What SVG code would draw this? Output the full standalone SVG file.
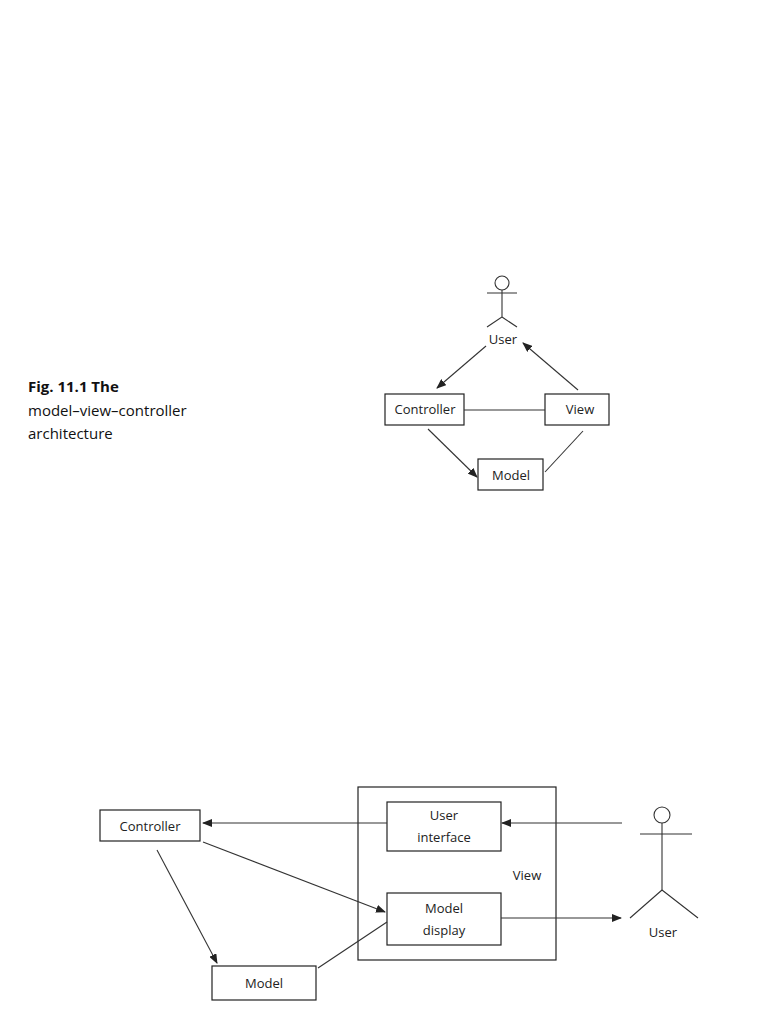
<svg xmlns="http://www.w3.org/2000/svg" width="768" height="1024" viewBox="0 0 768 1024">
<defs>
<style>
.b{fill:#fff;stroke:#222;stroke-width:1.2}
.l{stroke:#333;stroke-width:1.1;fill:none}
.t{font-family:"Open Sans","Liberation Sans",sans-serif;font-size:13px;fill:#222;text-anchor:middle}
.c{font-family:"Open Sans","Liberation Sans",sans-serif;font-size:15px;fill:#111}
</style>
<marker id="a" markerWidth="10" markerHeight="8" refX="9" refY="4" orient="auto" markerUnits="userSpaceOnUse"><path d="M0,0 L10,4 L0,8 Z" fill="#222"/></marker>
</defs>
<rect width="768" height="1024" fill="#fff"/>
<g id="caption1">
<text class="c" x="28" y="392" font-weight="bold">Fig. 11.1 The</text>
<text class="c" x="28" y="416">model–view–controller</text>
<text class="c" x="28" y="439">architecture</text>
</g>
<g id="user1">
<circle class="l" cx="502" cy="283" r="7"/>
<path class="l" d="M487,293H517M502,290V317L487,327M502,317L517,327"/>
<text class="t" x="503" y="344">User</text>
</g>
<g id="controller1"><rect class="b" x="385" y="394" width="79" height="31"/><text class="t" x="425" y="414">Controller</text></g>
<g id="view1"><rect class="b" x="545" y="394" width="64" height="31"/><text class="t" x="580" y="414">View</text></g>
<g id="model1"><rect class="b" x="478" y="459" width="65" height="31"/><text class="t" x="511" y="480">Model</text></g>
<g id="connectors1">
<line class="l" x1="486" y1="346" x2="437" y2="388" marker-end="url(#a)"/>
<line class="l" x1="578" y1="390" x2="523" y2="343" marker-end="url(#a)"/>
<line class="l" x1="464" y1="410" x2="545" y2="410"/>
<line class="l" x1="428" y1="429" x2="477" y2="477" marker-end="url(#a)"/>
<line class="l" x1="583" y1="431" x2="545" y2="472"/>
</g>
<g id="viewbox2"><rect class="b" x="358" y="787" width="198" height="173"/><text class="t" x="527" y="880">View</text></g>
<g id="controller2"><rect class="b" x="100" y="810" width="100" height="31"/><text class="t" x="150" y="831">Controller</text></g>
<g id="ui2"><rect class="b" x="387" y="802" width="114" height="49"/><text class="t" x="444" y="820">User</text><text class="t" x="444" y="842">interface</text></g>
<g id="md2"><rect class="b" x="387" y="893" width="114" height="52"/><text class="t" x="444" y="913">Model</text><text class="t" x="444" y="935">display</text></g>
<g id="model2"><rect class="b" x="212" y="966" width="104" height="34"/><text class="t" x="264" y="988">Model</text></g>
<g id="user2">
<circle class="l" cx="662" cy="815" r="8"/>
<path class="l" d="M640,834H692"/>
<path class="l" stroke-width="2" d="M662,823V890"/>
<path class="l" d="M662,890L630,918M662,890L698,918"/>
<text class="t" x="663" y="937">User</text>
</g>
<g id="connectors2">
<line class="l" x1="387" y1="823" x2="203" y2="823" marker-end="url(#a)"/>
<line class="l" x1="622" y1="823" x2="502" y2="823" marker-end="url(#a)"/>
<line class="l" stroke-width="2" x1="501" y1="918" x2="621" y2="918" marker-end="url(#a)"/>
<line class="l" x1="203" y1="842" x2="385" y2="912" marker-end="url(#a)"/>
<line class="l" x1="157" y1="850" x2="217" y2="963" marker-end="url(#a)"/>
<line class="l" x1="318" y1="968" x2="387" y2="922"/>
</g>
</svg>
